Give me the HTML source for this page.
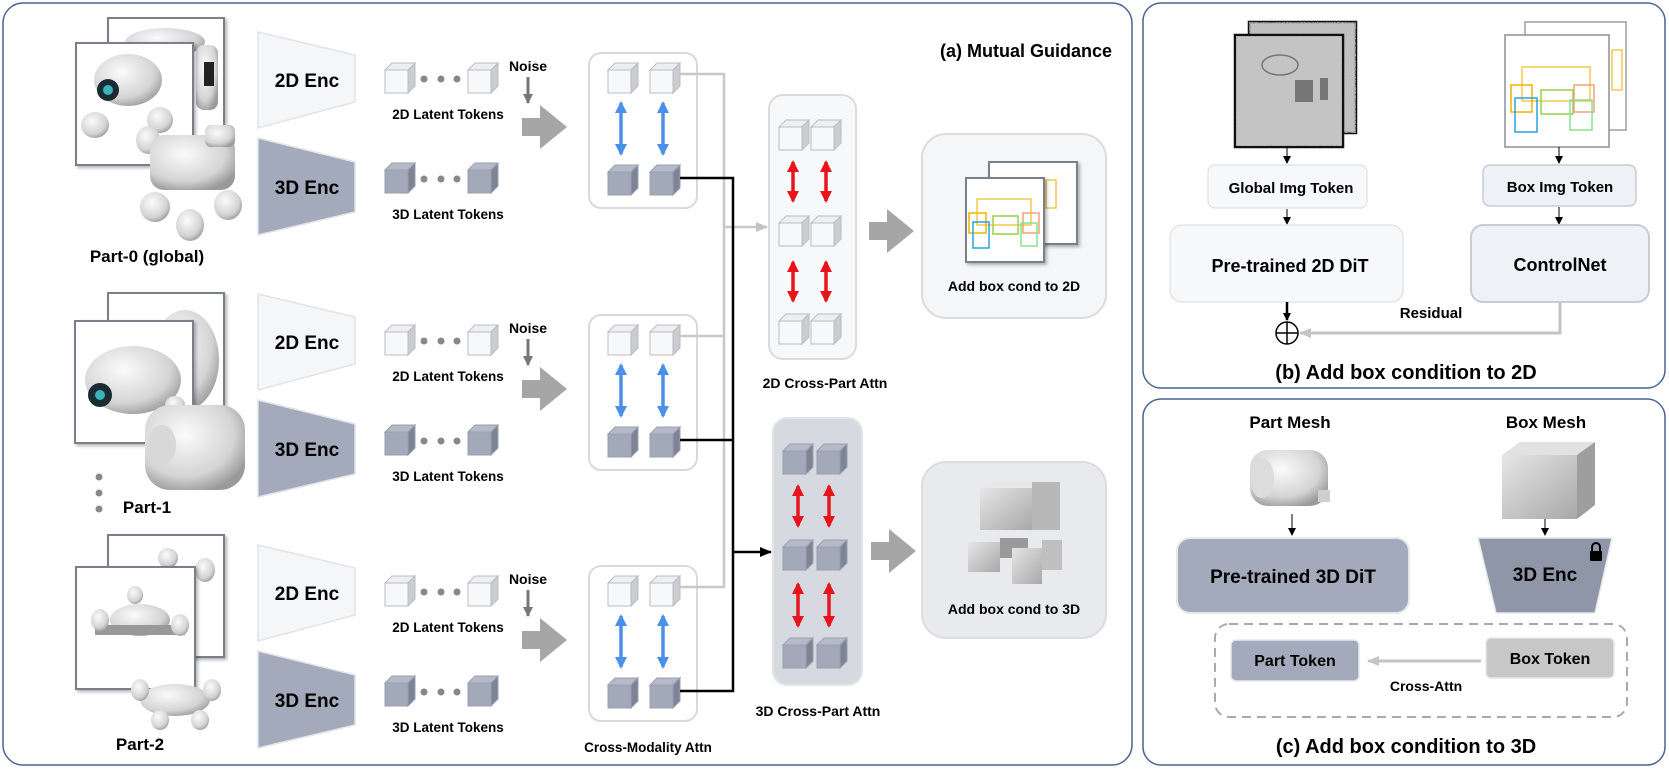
<!DOCTYPE html>
<html><head><meta charset="utf-8"><style>
html,body{margin:0;padding:0;background:#fff;}
svg{display:block;font-family:"Liberation Sans",Arial,sans-serif;font-weight:bold;}
</style></head><body>
<svg width="1669" height="769" viewBox="0 0 1669 769" xmlns="http://www.w3.org/2000/svg">
<defs>
<symbol id="c2" viewBox="0 0 30 30" width="30" height="30" overflow="visible">
<polygon points="0,7 7,0 30,0 23,7" fill="#eceef2" stroke="#bdbdbd" stroke-width="1"/>
<polygon points="23,7 30,0 30,23 23,30" fill="#c9ccd2" stroke="#bdbdbd" stroke-width="1"/>
<rect x="0" y="7" width="23" height="23" fill="#f7f8fa" stroke="#bdbdbd" stroke-width="1"/>
</symbol>
<symbol id="c3" viewBox="0 0 30 30" width="30" height="30" overflow="visible">
<polygon points="0,7 7,0 30,0 23,7" fill="#b4bac7" stroke="#9aa0ae" stroke-width="1"/>
<polygon points="23,7 30,0 30,23 23,30" fill="#7d8496" stroke="#9aa0ae" stroke-width="1"/>
<rect x="0" y="7" width="23" height="23" fill="#a2a9b8" stroke="#9aa0ae" stroke-width="1"/>
</symbol>
<marker id="mBk" markerWidth="8" markerHeight="8" refX="7" refY="4" orient="auto" markerUnits="userSpaceOnUse"><path d="M0,0 L8,4 L0,8 z" fill="#000"/></marker>
<marker id="mBkL" markerWidth="12" markerHeight="10" refX="11" refY="5" orient="auto" markerUnits="userSpaceOnUse"><path d="M0,0 L12,5 L0,10 z" fill="#000"/></marker>
<marker id="mGy" markerWidth="12" markerHeight="10" refX="11" refY="5" orient="auto" markerUnits="userSpaceOnUse"><path d="M0,0 L12,5 L0,10 z" fill="#c4c4c4"/></marker>
<marker id="mDg" markerWidth="10" markerHeight="10" refX="9" refY="5" orient="auto" markerUnits="userSpaceOnUse"><path d="M0,0 L10,5 L0,10 z" fill="#777"/></marker>
<marker id="mBl" markerWidth="12" markerHeight="12" refX="10" refY="6" orient="auto-start-reverse" markerUnits="userSpaceOnUse"><path d="M0,0 L12,6 L0,12 z" fill="#4a90e8"/></marker>
<marker id="mRd" markerWidth="12" markerHeight="12" refX="10" refY="6" orient="auto-start-reverse" markerUnits="userSpaceOnUse"><path d="M0,0 L12,6 L0,12 z" fill="#e8141c"/></marker>
<radialGradient id="gm" cx="0.4" cy="0.35" r="0.7"><stop offset="0" stop-color="#fbfbfb"/><stop offset="0.7" stop-color="#d4d4d4"/><stop offset="1" stop-color="#9a9a9a"/></radialGradient>
<linearGradient id="gc" x1="0" y1="0" x2="1" y2="1"><stop offset="0" stop-color="#e6e6e6"/><stop offset="1" stop-color="#a8a8a8"/></linearGradient>
<filter id="noise" x="0" y="0" width="100%" height="100%"><feTurbulence type="fractalNoise" baseFrequency="0.9" numOctaves="1" seed="3"/><feColorMatrix type="matrix" values="0 0 0 0 0.55  0 0 0 0 0.55  0 0 0 0 0.55  0 0 0 1.6 -0.2"/></filter>
<filter id="sh" x="-10%" y="-10%" width="130%" height="130%"><feDropShadow dx="2" dy="2" stdDeviation="1.5" flood-color="#000" flood-opacity="0.3"/></filter>
<g id="bigarrow"><polygon points="0,13 18,13 18,0 45,22 18,44 18,31 0,31" fill="#a6a6a6"/></g>
</defs>

<rect x="3" y="3" width="1129" height="762" rx="20" fill="#fff" stroke="#4a6494" stroke-width="1.5"/>
<rect x="1143" y="3" width="522" height="385" rx="18" fill="#fff" stroke="#4a6494" stroke-width="1.5"/>
<rect x="1143" y="399" width="522" height="366" rx="18" fill="#fff" stroke="#4a6494" stroke-width="1.5"/>

<text x="1112" y="57" font-size="18" text-anchor="end">(a) Mutual Guidance</text>

<g>
<rect x="108" y="18" width="116" height="122" fill="#fff" stroke="#7a7f8c" stroke-width="2" filter="url(#sh)"/>
<ellipse cx="165" cy="42" rx="40" ry="14" fill="url(#gm)"/>
<rect x="196" y="45" width="22" height="65" rx="8" fill="url(#gm)"/><rect x="204" y="62" width="10" height="24" fill="#222"/>
<rect x="76" y="43" width="117" height="122" fill="#fff" stroke="#7a7f8c" stroke-width="2" filter="url(#sh)"/>
<ellipse cx="128" cy="80" rx="34" ry="26" fill="url(#gm)"/><circle cx="108" cy="90" r="11" fill="#1b2b33"/><circle cx="108" cy="90" r="5" fill="#3bb3b8"/>
<ellipse cx="95" cy="125" rx="14" ry="13" fill="url(#gm)"/><ellipse cx="160" cy="120" rx="13" ry="13" fill="url(#gm)"/>
<ellipse cx="148" cy="140" rx="12" ry="14" fill="url(#gm)"/>
<rect x="150" y="135" width="85" height="55" rx="14" fill="url(#gm)"/><rect x="205" y="125" width="30" height="22" rx="6" fill="url(#gm)"/>
<ellipse cx="155" cy="207" rx="15" ry="15" fill="url(#gm)"/><ellipse cx="190" cy="225" rx="14" ry="16" fill="url(#gm)"/><ellipse cx="228" cy="205" rx="14" ry="15" fill="url(#gm)"/>
</g>
<text x="147" y="262" font-size="17" text-anchor="middle">Part-0 (global)</text>

<g>
<rect x="108" y="293" width="116" height="122" fill="#fff" stroke="#7a7f8c" stroke-width="2" filter="url(#sh)"/>
<ellipse cx="185" cy="360" rx="34" ry="50" fill="url(#gm)"/>
<rect x="75" y="321" width="118" height="122" fill="#fff" stroke="#7a7f8c" stroke-width="2" filter="url(#sh)"/>
<ellipse cx="133" cy="380" rx="48" ry="34" fill="url(#gm)"/><circle cx="100" cy="395" r="12" fill="#1b2b33"/><circle cx="100" cy="395" r="5" fill="#3bb3b8"/>
<ellipse cx="175" cy="405" rx="10" ry="9" fill="url(#gm)"/>
<rect x="145" y="405" width="100" height="85" rx="25" fill="url(#gm)"/><ellipse cx="162" cy="445" rx="14" ry="20" fill="#d8d8d8"/>
</g>
<circle cx="99" cy="477" r="3.5" fill="#888"/><circle cx="99" cy="493" r="3.5" fill="#888"/><circle cx="99" cy="509" r="3.5" fill="#888"/>
<text x="147" y="513" font-size="17" text-anchor="middle">Part-1</text>

<g>
<rect x="108" y="535" width="116" height="122" fill="#fff" stroke="#7a7f8c" stroke-width="2" filter="url(#sh)"/>
<ellipse cx="205" cy="570" rx="10" ry="12" fill="url(#gm)"/><ellipse cx="168" cy="558" rx="10" ry="10" fill="url(#gm)"/>
<rect x="76" y="567" width="119" height="122" fill="#fff" stroke="#7a7f8c" stroke-width="2" filter="url(#sh)"/>
<ellipse cx="140" cy="620" rx="30" ry="16" fill="url(#gm)"/><rect x="95" y="625" width="90" height="10" fill="#999"/>
<ellipse cx="100" cy="620" rx="9" ry="11" fill="url(#gm)"/><ellipse cx="180" cy="625" rx="9" ry="11" fill="url(#gm)"/>
<ellipse cx="135" cy="595" rx="8" ry="9" fill="url(#gm)"/>
<ellipse cx="175" cy="700" rx="35" ry="16" fill="url(#gm)"/><ellipse cx="140" cy="690" rx="9" ry="11" fill="url(#gm)"/><ellipse cx="212" cy="690" rx="9" ry="11" fill="url(#gm)"/><ellipse cx="160" cy="720" rx="9" ry="10" fill="url(#gm)"/><ellipse cx="200" cy="720" rx="9" ry="10" fill="url(#gm)"/>
</g>
<text x="140" y="750" font-size="17" text-anchor="middle">Part-2</text>

<g id="row0">
<polygon points="258,32 355,55 355,102 258,128" fill="#f5f6f8" stroke="#e2e4e8" stroke-width="1.5"/>
<polygon points="258,138 355,162 355,212 258,235" fill="#a3aabb" stroke="#e2e4e8" stroke-width="1.5"/>
<text x="307" y="87" font-size="19" text-anchor="middle">2D Enc</text>
<text x="307" y="194" font-size="19" text-anchor="middle">3D Enc</text>
<use href="#c2" x="385" y="63"/><use href="#c2" x="468" y="63"/>
<circle cx="424" cy="79" r="3.5" fill="#888"/><circle cx="441" cy="79" r="3.5" fill="#888"/><circle cx="457" cy="79" r="3.5" fill="#888"/>
<text x="448" y="119" font-size="13.5" text-anchor="middle">2D Latent Tokens</text>
<use href="#c3" x="385" y="163"/><use href="#c3" x="468" y="163"/>
<circle cx="424" cy="179" r="3.5" fill="#888"/><circle cx="441" cy="179" r="3.5" fill="#888"/><circle cx="457" cy="179" r="3.5" fill="#888"/>
<text x="448" y="219" font-size="13.5" text-anchor="middle">3D Latent Tokens</text>
<text x="528" y="71" font-size="14" text-anchor="middle">Noise</text>
<line x1="528" y1="77" x2="528" y2="103" stroke="#777" stroke-width="3" marker-end="url(#mDg)"/>
<use href="#bigarrow" x="522" y="105"/>
<rect x="589" y="53" width="108" height="155" rx="12" fill="#fff" stroke="#d9d9d9" stroke-width="2"/>
<use href="#c2" x="608" y="63"/><use href="#c2" x="650" y="63"/>
<use href="#c3" x="608" y="165"/><use href="#c3" x="650" y="165"/>
<line x1="621" y1="103" x2="621" y2="154" stroke="#4a90e8" stroke-width="3.5" marker-start="url(#mBl)" marker-end="url(#mBl)"/>
<line x1="663" y1="103" x2="663" y2="154" stroke="#4a90e8" stroke-width="3.5" marker-start="url(#mBl)" marker-end="url(#mBl)"/>
</g>
<use href="#row0" y="262"/>
<use href="#row0" y="513"/>
<text x="648" y="752" font-size="13.5" text-anchor="middle">Cross-Modality Attn</text>

<g fill="none" stroke="#c8c8c8" stroke-width="2.5">
<polyline points="680,74 724,74 724,587 680,587"/>
<line x1="680" y1="336" x2="724" y2="336"/>
<line x1="724" y1="227" x2="767" y2="227" marker-end="url(#mGy)"/>
</g>
<g fill="none" stroke="#000" stroke-width="2.5">
<polyline points="680,178 733,178 733,691 680,691"/>
<line x1="680" y1="440" x2="733" y2="440"/>
<line x1="733" y1="552" x2="771" y2="552" marker-end="url(#mBkL)"/>
</g>

<rect x="769" y="95" width="87" height="264" rx="14" fill="#f7f8fa" stroke="#dcdcdc" stroke-width="2"/>
<use href="#c2" x="779" y="120"/><use href="#c2" x="811" y="120"/>
<use href="#c2" x="779" y="216"/><use href="#c2" x="811" y="216"/>
<use href="#c2" x="779" y="314"/><use href="#c2" x="811" y="314"/>
<g stroke="#e8141c" stroke-width="3.5" marker-start="url(#mRd)" marker-end="url(#mRd)">
<line x1="793" y1="162" x2="793" y2="201"/><line x1="826" y1="162" x2="826" y2="201"/>
<line x1="793" y1="262" x2="793" y2="301"/><line x1="826" y1="262" x2="826" y2="301"/>
</g>
<text x="825" y="388" font-size="14" text-anchor="middle">2D Cross-Part Attn</text>

<rect x="773" y="418" width="89" height="267" rx="14" fill="#d6d9e0" stroke="#e2e4e8" stroke-width="2"/>
<use href="#c3" x="783" y="444"/><use href="#c3" x="817" y="444"/>
<use href="#c3" x="783" y="540"/><use href="#c3" x="817" y="540"/>
<use href="#c3" x="783" y="638"/><use href="#c3" x="817" y="638"/>
<g stroke="#e8141c" stroke-width="3.5" marker-start="url(#mRd)" marker-end="url(#mRd)">
<line x1="798" y1="486" x2="798" y2="526"/><line x1="829" y1="486" x2="829" y2="526"/>
<line x1="798" y1="584" x2="798" y2="626"/><line x1="829" y1="584" x2="829" y2="626"/>
</g>
<text x="818" y="716" font-size="14" text-anchor="middle">3D Cross-Part Attn</text>

<use href="#bigarrow" x="869" y="209"/>
<use href="#bigarrow" x="871" y="529"/>

<rect x="922" y="134" width="184" height="184" rx="24" fill="#f5f6f8" stroke="#dcdcdc" stroke-width="2"/>
<rect x="989" y="162" width="88" height="82" fill="#fff" stroke="#7a7f8c" stroke-width="2" filter="url(#sh)"/>
<rect x="1046" y="180" width="10" height="28" fill="none" stroke="#f2c94c" stroke-width="1.5"/>
<rect x="966" y="178" width="78" height="84" fill="#fff" stroke="#7a7f8c" stroke-width="2" filter="url(#sh)"/>
<g fill="none" stroke-width="1.5">
<rect x="977" y="199" width="54" height="26" stroke="#f2c94c"/>
<rect x="969" y="213" width="17" height="20" stroke="#f0b400"/>
<rect x="973" y="222" width="16" height="26" stroke="#27a4dd"/>
<rect x="993" y="216" width="25" height="18" stroke="#9ad04a"/>
<rect x="1023" y="213" width="16" height="20" stroke="#f0a07a"/>
<rect x="1021" y="223" width="16" height="23" stroke="#88e090"/>
</g>
<text x="1014" y="291" font-size="14" text-anchor="middle">Add box cond to 2D</text>

<rect x="922" y="462" width="184" height="176" rx="24" fill="#e9eaee" stroke="#dcdcdc" stroke-width="2"/>
<rect x="980" y="488" width="52" height="42" fill="url(#gc)"/><polygon points="980,488 990,482 1060,482 1032,488" fill="#e8e8e8"/><rect x="1032" y="482" width="28" height="48" fill="#b8b8b8"/>
<rect x="968" y="542" width="32" height="30" fill="url(#gc)"/>
<rect x="1000" y="538" width="28" height="20" fill="#9a9a9a"/>
<rect x="1012" y="548" width="30" height="36" fill="url(#gc)"/>
<rect x="1042" y="540" width="20" height="30" fill="#c0c0c0"/>
<text x="1014" y="614" font-size="14" text-anchor="middle">Add box cond to 3D</text>

<rect x="1249" y="22" width="107" height="111" fill="#bbb" stroke="#111" stroke-width="2.5"/>
<rect x="1249" y="22" width="107" height="111" filter="url(#noise)"/>
<rect x="1235" y="35" width="108" height="112" fill="#c4c4c4" stroke="#111" stroke-width="2.5"/>
<rect x="1236" y="36" width="106" height="110" filter="url(#noise)"/>
<rect x="1295" y="80" width="18" height="22" fill="#555" opacity="0.7"/><rect x="1320" y="78" width="8" height="22" fill="#555" opacity="0.7"/>
<ellipse cx="1280" cy="65" rx="18" ry="10" fill="none" stroke="#777" stroke-width="1.5"/>
<line x1="1287" y1="148" x2="1287" y2="163" stroke="#000" stroke-width="1" marker-end="url(#mBk)"/>
<rect x="1208" y="165" width="159" height="43" rx="7" fill="#f7f8fa" stroke="#e3e5ea" stroke-width="1.5"/>
<text x="1291" y="193" font-size="15" text-anchor="middle">Global Img Token</text>
<line x1="1287" y1="209" x2="1287" y2="224" stroke="#000" stroke-width="1" marker-end="url(#mBk)"/>
<rect x="1170" y="225" width="233" height="77" rx="12" fill="#f7f8fa" stroke="#e3e5ea" stroke-width="1.5"/>
<text x="1290" y="272" font-size="18" text-anchor="middle">Pre-trained 2D DiT</text>
<line x1="1287" y1="302" x2="1287" y2="320" stroke="#000" stroke-width="2.5" marker-end="url(#mBk)"/>
<circle cx="1287" cy="333" r="11" fill="#fff" stroke="#000" stroke-width="1.5"/>
<line x1="1276" y1="333" x2="1298" y2="333" stroke="#000" stroke-width="1.5"/><line x1="1287" y1="322" x2="1287" y2="344" stroke="#000" stroke-width="1.5"/>
<polyline points="1560,302 1560,333 1300,333" fill="none" stroke="#c4c4c4" stroke-width="3" marker-end="url(#mGy)"/>
<text x="1431" y="318" font-size="15" text-anchor="middle">Residual</text>
<rect x="1525" y="22" width="101" height="108" fill="#fff" stroke="#9a9ea8" stroke-width="1.5"/>
<rect x="1612" y="50" width="10" height="40" fill="none" stroke="#f2c94c" stroke-width="1.5"/>
<rect x="1505" y="35" width="104" height="112" fill="#fff" stroke="#8a8f9a" stroke-width="1.5"/>
<g fill="none" stroke-width="1.5">
<rect x="1522" y="67" width="68" height="34" stroke="#f2c94c"/>
<rect x="1511" y="85" width="21" height="27" stroke="#f0b400"/>
<rect x="1515" y="98" width="22" height="34" stroke="#27a4dd"/>
<rect x="1541" y="90" width="32" height="24" stroke="#9ad04a"/>
<rect x="1574" y="85" width="20" height="27" stroke="#f0a07a"/>
<rect x="1570" y="100" width="22" height="30" stroke="#88e090"/>
</g>
<line x1="1559" y1="147" x2="1559" y2="163" stroke="#000" stroke-width="1" marker-end="url(#mBk)"/>
<rect x="1483" y="165" width="153" height="41" rx="7" fill="#eef1f6" stroke="#c8ccd4" stroke-width="1.5"/>
<text x="1560" y="192" font-size="15" text-anchor="middle">Box Img Token</text>
<line x1="1559" y1="207" x2="1559" y2="224" stroke="#000" stroke-width="1" marker-end="url(#mBk)"/>
<rect x="1471" y="225" width="178" height="77" rx="12" fill="#eef1f6" stroke="#c8ccd4" stroke-width="2"/>
<text x="1560" y="271" font-size="18" text-anchor="middle">ControlNet</text>
<text x="1406" y="379" font-size="20" text-anchor="middle" font-weight="bold">(b) Add box condition to 2D</text>

<text x="1290" y="428" font-size="17" text-anchor="middle">Part Mesh</text>
<text x="1546" y="428" font-size="17" text-anchor="middle">Box Mesh</text>
<rect x="1250" y="450" width="78" height="56" rx="18" fill="url(#gm)"/><ellipse cx="1262" cy="478" rx="12" ry="20" fill="#dcdcdc"/><rect x="1318" y="490" width="12" height="12" fill="#cfcfcf"/>
<line x1="1292" y1="514" x2="1292" y2="535" stroke="#000" stroke-width="1" marker-end="url(#mBk)"/>
<polygon points="1502,455 1520,442 1595,442 1577,455" fill="#e2e2e2"/>
<polygon points="1577,455 1595,442 1595,505 1577,519" fill="#9e9e9e"/>
<rect x="1502" y="455" width="75" height="64" fill="url(#gc)"/>
<line x1="1545" y1="519" x2="1545" y2="535" stroke="#000" stroke-width="1" marker-end="url(#mBk)"/>
<rect x="1177" y="538" width="232" height="75" rx="13" fill="#a3aabb" stroke="#e6e8ec" stroke-width="2"/>
<text x="1293" y="583" font-size="19" text-anchor="middle">Pre-trained 3D DiT</text>
<polygon points="1478,538 1612,538 1595,613 1496,613" fill="#8e96a8" stroke="#e6e8ec" stroke-width="1.5"/>
<text x="1545" y="581" font-size="19" text-anchor="middle">3D Enc</text>
<path d="M1592,551 v-4 a4,4 0 0 1 8,0 v4" fill="none" stroke="#000" stroke-width="2"/><rect x="1590" y="551" width="12" height="10" rx="1" fill="#000"/>
<rect x="1215" y="624" width="412" height="93" rx="14" fill="none" stroke="#aaa" stroke-width="2" stroke-dasharray="9,6"/>
<rect x="1231" y="640" width="128" height="41" rx="5" fill="#a3aabb" stroke="#e6e8ec" stroke-width="1.5"/>
<text x="1295" y="666" font-size="16" text-anchor="middle">Part Token</text>
<rect x="1486" y="638" width="128" height="40" rx="5" fill="#c7c7c7" stroke="#e6e8ec" stroke-width="1.5"/>
<text x="1550" y="664" font-size="16" text-anchor="middle">Box Token</text>
<line x1="1481" y1="661" x2="1368" y2="661" stroke="#c4c4c4" stroke-width="3" marker-end="url(#mGy)"/>
<text x="1426" y="691" font-size="14" text-anchor="middle">Cross-Attn</text>
<text x="1406" y="753" font-size="20" text-anchor="middle" font-weight="bold">(c) Add box condition to 3D</text>
</svg>
</body></html>
